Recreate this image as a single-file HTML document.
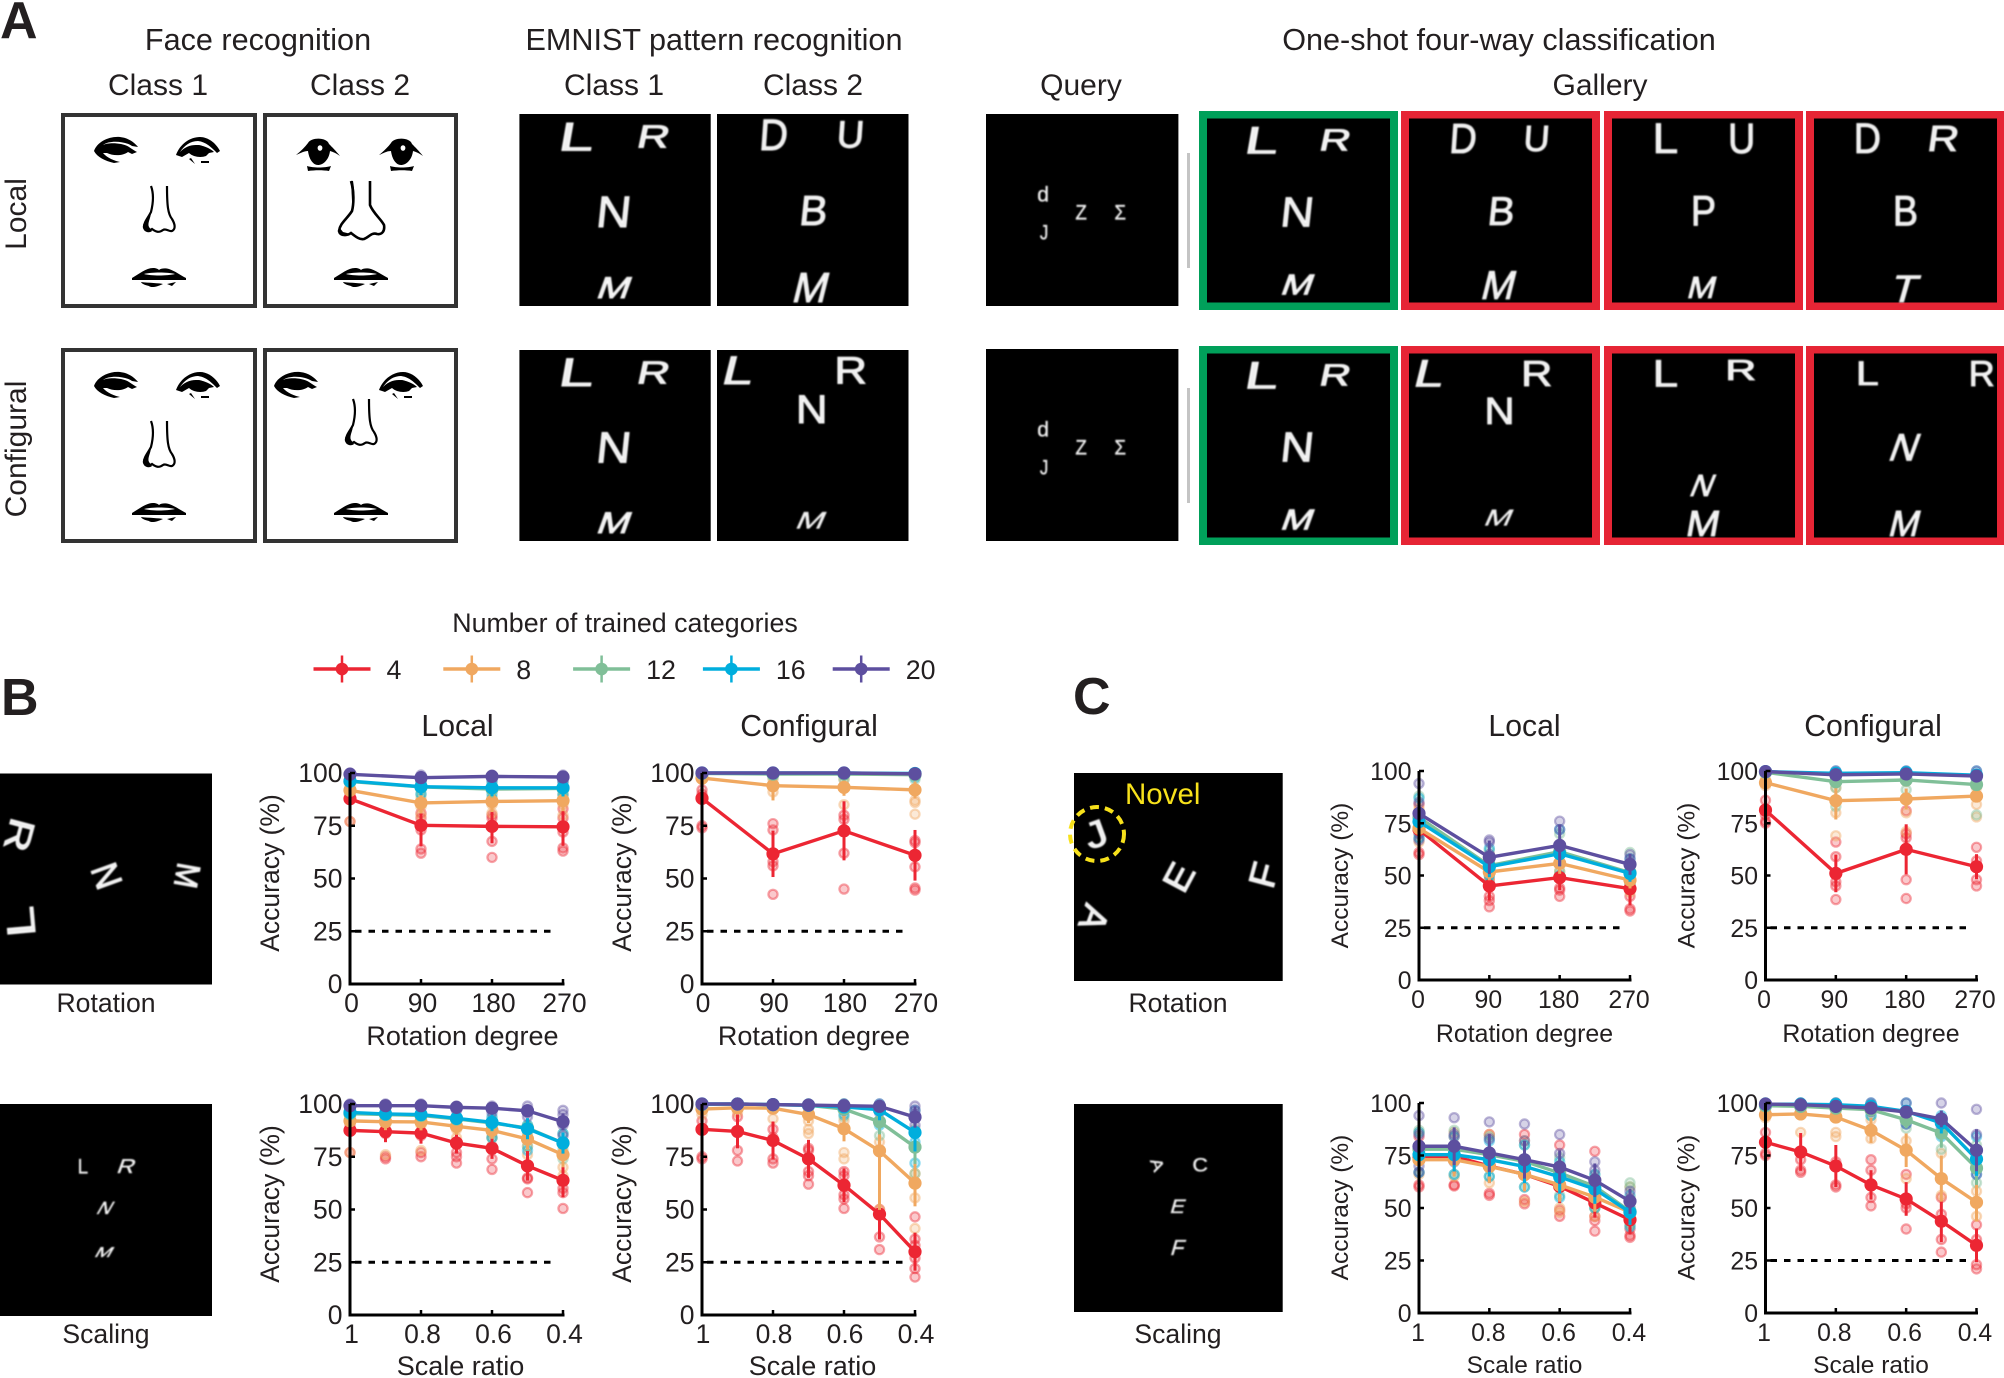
<!DOCTYPE html>
<html lang="en">
<head>
<meta charset="utf-8">
<title>Recognition accuracy figure</title>
<style>
html,body{margin:0;padding:0;background:#fff;width:2004px;height:1378px;overflow:hidden}
svg{display:block}
text{font-family:"Liberation Sans",sans-serif;fill:#231f20}
.h{font-size:30px;text-anchor:middle}
.h2{font-size:30.6px;text-anchor:middle}
.panel{font-size:52px;font-weight:700}
.cap{font-size:26.6px;text-anchor:middle}
</style>
</head>
<body>
<svg id="fig" xmlns="http://www.w3.org/2000/svg" width="2004" height="1378" viewBox="0 0 2004 1378">
<defs>
<filter id="soft" x="-20%" y="-20%" width="140%" height="140%"><feGaussianBlur stdDeviation="0.7"/></filter>
<symbol id="eye-a" overflow="visible" viewBox="-25 -15 50 30" width="50" height="30">
  <path d="M-23,1 C-20,-8 -8,-14 3,-13 C12,-12 18,-7 21,-3 L15,-4 C8,-9 -8,-10 -14,-5 C-8,-8 6,-7 12,-3 C15,-1 18,1 20,2 L15,4 L11,2 C6,6 -4,6 -10,3 L-14,3 C-10,8 -2,11 3,12 L-3,13 C-12,11 -20,7 -23,1Z" fill="#000"/>
  <ellipse cx="-3" cy="-1" rx="9" ry="5" fill="#000"/>
</symbol>
<symbol id="eye-b" overflow="visible" viewBox="-25 -15 50 30" width="50" height="30">
  <path d="M-22,5 C-18,-6 -8,-13 2,-13 C10,-13 18,-7 22,1 L19,3 C13,-3 8,-8 0,-9 C-8,-9 -14,-4 -18,2 C-13,-3 -8,-5 -2,-5 C4,-5 12,-2 16,2 L11,3 L8,6 C3,8 -5,7 -9,3 L-16,7Z" fill="#000"/>
  <ellipse cx="0" cy="0" rx="7" ry="5" fill="#000"/>
  <path d="M-9,9 L-3,14 L-7,8Z M3,13 L11,13 L11,11 L3,11Z" fill="#000"/>
</symbol>
<symbol id="eye-c" overflow="visible" viewBox="-25 -15 50 30" width="50" height="30">
  <path d="M-23,5 C-18,1 -14,-3 -11,-7 C-8,-13 8,-13 10,-6 C13,-3 17,1 21,6 C17,3 14,2 11,1 C10,10 4,15 -1,15 C-6,15 -10,9 -11,1 C-15,1 -18,3 -23,5Z" fill="#000"/>
  <ellipse cx="1" cy="-2" rx="2.4" ry="2.8" fill="#fff"/>
  <path d="M-12,16 C-6,18 6,18 12,16 L10,21 C4,20 -4,20 -11,21Z" fill="#000"/>
</symbol>
<symbol id="nose-a" overflow="visible" viewBox="-20 0 40 50" width="40" height="50">
  <path d="M-8,0 C-5,8 -6,18 -8,26 C-11,32 -15,36 -15,41 C-14,46 -10,45 -7,43 C-3,46 0,47 4,44 C7,42 10,46 13,45 C17,43 16,38 13,33 C9,28 8,20 8,0" fill="none" stroke="#000" stroke-width="2.2"/>
  <path d="M-8,26 C-11,31 -17,37 -16,42 C-14,47 -9,47 -7,45 L-10,41 C-12,37 -8,32 -8,26Z" fill="#000"/>
</symbol>
<symbol id="nose-b" overflow="visible" viewBox="-26 0 52 60" width="52" height="60">
  <path d="M-10,0 C-7,10 -7,22 -9,30 C-14,38 -21,42 -22,50 C-21,55 -14,55 -10,52 C-5,56 -1,59 3,58 C8,56 11,51 16,53 C21,54 24,50 23,44 C20,38 12,32 9,24 C9,14 9,8 9,0" fill="none" stroke="#000" stroke-width="2.6"/>
  <path d="M-22,46 C-23,53 -16,57 -10,53 L-18,51Z M-10,0 L-8,0 C-6,12 -6,22 -9,30 L-9,20Z" fill="#000"/>
</symbol>
<symbol id="lips" overflow="visible" viewBox="-28 -11 56 22" width="56" height="22">
  <path d="M-27,0 C-20,-4 -13,-10 -6,-10 C-3,-10 -1,-9 0,-8 C2,-10 7,-10 10,-9 C16,-7 21,-3 27,0 L27,2 L-27,2Z M-15,-4 C-8,-6 9,-6 16,-4 C8,-2 -8,-2 -15,-4Z" fill="#000" fill-rule="evenodd"/>
  <path d="M-18,4 C-10,5 0,5 4,6 C-2,9 -8,10 -10,8 C-14,7 -17,6 -18,4Z M8,6 L17,4 L13,8Z" fill="#000"/>
</symbol>
</defs>

<rect width="2004" height="1378" fill="#fff"/>

<text class="panel" x="0" y="38">A</text>
<text class="panel" x="1" y="715">B</text>
<text class="panel" x="1073" y="714">C</text>

<text class="h2" x="258" y="50">Face recognition</text>
<text class="h2" x="714" y="50">EMNIST pattern recognition</text>
<text class="h2" x="1499" y="50">One-shot four-way classification</text>
<text class="h" x="158" y="95">Class 1</text>
<text class="h" x="360" y="95">Class 2</text>
<text class="h" x="614" y="95">Class 1</text>
<text class="h" x="813" y="95">Class 2</text>
<text class="h" x="1081" y="95">Query</text>
<text class="h" x="1600" y="95">Gallery</text>
<text class="h" transform="translate(26 214) rotate(-90)">Local</text>
<text class="h" transform="translate(26 449) rotate(-90)">Configural</text>

<g>
  <rect x="63" y="115" width="192" height="191" fill="#fff" stroke="#333" stroke-width="4"/>
  <use href="#eye-a" x="92" y="135"/><use href="#eye-b" x="173" y="135" />
  <use href="#nose-a" x="139" y="186"/><use href="#lips" x="131" y="267"/>
</g>
<g>
  <rect x="265" y="115" width="191" height="191" fill="#fff" stroke="#333" stroke-width="4"/>
  <use href="#eye-c" x="294" y="135"/><use href="#eye-c" x="377" y="135"/>
  <use href="#nose-b" x="335" y="181"/><use href="#lips" x="333" y="267"/>
</g>
<g>
  <rect x="63" y="350" width="192" height="191" fill="#fff" stroke="#333" stroke-width="4"/>
  <use href="#eye-a" x="92" y="370"/><use href="#eye-b" x="173" y="370"/>
  <use href="#nose-a" x="139" y="421"/><use href="#lips" x="131" y="502"/>
</g>
<g>
  <rect x="265" y="350" width="191" height="191" fill="#fff" stroke="#333" stroke-width="4"/>
  <use href="#eye-a" x="272" y="370"/><use href="#eye-b" x="376" y="370"/>
  <use href="#nose-a" x="341" y="399"/><use href="#lips" x="333" y="502"/>
</g>

<rect x="1187" y="153" width="3" height="115" fill="#c4c4c4"/>
<rect x="1187" y="388" width="3" height="115" fill="#c4c4c4"/>

<g id="images"></g>

<text class="cap" x="106" y="1012">Rotation</text>
<text class="cap" x="106" y="1343">Scaling</text>
<text class="cap" x="1178" y="1012">Rotation</text>
<text class="cap" x="1178" y="1343">Scaling</text>

<g id="legend"></g>
<g id="charts"></g>

<text x="1125" y="804" style="font-size:29.5px;fill:#f7e11b">Novel</text>
<ellipse cx="1097" cy="834" rx="27" ry="27" fill="none" stroke="#f7e11b" stroke-width="4" stroke-dasharray="9 6"/>
</svg>

<script>
// ---- chart data ----
const trainedCategories = ['4', '8', '12', '16', '20'];
const rotationLabels = ['0', '90', '180', '270'];
const scaleLabels = ['1', '', '0.8', '', '0.6', '', '0.4'];
const accuracyTicks = [0, 25, 50, 75, 100];
const chanceLevel = [25];

const bRotLocalMeans = [[87.8,75.2,74.7,74.5],[91.8,85.8,86.5,86.9],[96,93.4,92.4,92.7],[96.2,93.5,93,93],[99.4,97.8,98.4,98.1]];
const bRotLocalErrors = [[3,10,8,9],[4,5,5,5],[2,4,4,4],[2,4,4,4],[1,1.5,1.5,1.5]];
const bRotLocalPoints = [
 [[77,88,90],[81,78.6,73,64,62],[80,78.6,67.6,60],[83,78.6,72,64.5,63]],
 [[77,92,95],[88,84,80],[88,85,81],[90,85,80]],
 [[92,97,98],[96,92,90],[95,92,88],[95,92,89]],
 [[93,97,99],[96,93,90],[96,93,90],[96,93,90]],
 [[99,100,98],[99,97,96],[99,98,97],[99,98,96]]];

const bRotConfigMeans = [[88,61.7,72.6,61],[97.6,94,93.2,92],[99.8,99.5,99.5,99.2],[100,100,100,99.8],[100,100,100,99.6]];
const bRotConfigErrors = [[3,11,14,12],[2,7,4,4],[.5,1,1,1],[0,.5,.5,.5],[0,.5,.5,.5]];
const bRotConfigPoints = [
 [[75,74,90,92],[76,73,58,56,42.5],[80,78,62,45],[68,67,55.5,45.5,44.5]],
 [[97,98],[97,91],[97,85],[87,86,80.5]],
 [[100,99],[100,98],[100,97],[99,97]],
 [[100],[100,99],[100,99],[100,98]],
 [[100],[100],[100],[100,99]]];

const bScaleLocalMeans = [[87.5,86.9,86.2,81.5,79,70.7,63.8],[92,91.6,91.5,89.4,87.5,83.4,76],[95.4,95,94.6,92.9,91,88.6,81.5],[96,95.3,95,93.2,91.3,88.3,81.5],[99.2,99.2,99.2,98.4,98,96.8,91.6]];
const bScaleLocalErrors = [[3,5,5,5,5,7,8],[4,4,4,4,4,5,6],[2,3,3,3,4,4,5],[2,3,3,3,4,5,5],[1,1,1,1.5,2,3,4]];
const bScaleLocalPoints = [
 [[77,88,90],[75,74,86],[77,75,85],[77,75,72],[80,74,69],[65,64.5,58],[60,58,50.5]],
 [[77,92,94],[76,90,93],[78,90,92],[84,88,92],[84,86,90],[76,80,87],[66,70,80]],
 [[92,96,98],[92,95,97],[92,94,96],[90,92,94],[84,90,93],[80,86,90],[74,78,86]],
 [[93,97],[92,96],[92,95],[90,94],[84,90,94],[78,84,90],[76,82,86]],
 [[98,100],[98,100],[98,100],[97,99],[96,99],[94,96,99],[85,90,95,97]]];

const bScaleConfigMeans = [[88,87,82.7,74,61.5,47.8,30],[97.6,98.2,98,95,88.3,77.8,62.5],[99.8,100,99.7,99.4,97.6,91.6,79.6],[100,100,99.7,99.4,98.6,97.3,86.5],[100,100,99.7,99.5,99.2,98.9,93.8]];
const bScaleConfigErrors = [[3,8,9,9,8,12,9],[2,1,2,4,6,28,11],[0,0,.5,1,3,6,8],[0,0,.5,1,2,5,9],[0,0,.5,.5,1,2,5]];
const bScaleConfigPoints = [
 [[92,75,74],[94,78,73],[88,84,74,72],[79,78,68,66,62],[68,66,57,55,50.5],[50,37,31],[46.5,36,33,27,22,18]],
 [[100,95],[100,96],[100,93],[92,88,86],[92,77,74],[82,50],[67,55.5,41]],
 [[100],[100],[100],[100,98],[100,94],[97,85],[88,80,67]],
 [[100],[100],[100],[100],[100,95],[100,90],[97,82,72]],
 [[100],[100],[100],[100],[100,97],[100,96],[99,97,95,90]]];

const cRotLocalMeans = [[72,45,49,43.7],[72.6,51.7,55.8,47.8],[77.8,54.7,61.4,51.4],[75.8,54.2,60.4,51],[79.7,58.7,64.4,55.3]];
const cRotLocalErrors = [[8,7,6,8],[8,4,5,4],[7,4,5,4],[8,5,6,4],[10,8,10,5]];
const cRotLocalPoints = [
 [[84,76,60,61],[48,40,38,35],[44,43,40],[40,34,33]],
 [[82,70,66],[60,48,45],[62,52,50],[56,46,42]],
 [[88,80,68],[62,50,46],[70,56,52],[61,50,46]],
 [[87,75,68],[63,50,46],[72,56,50],[58,50,46]],
 [[94,85,70,67],[67,66,60,57],[76,72],[60,58,55]]];

const cRotConfigMeans = [[81.3,51,62.5,54.2],[94.4,85.8,86.6,88],[99.4,94.9,95.7,93.5],[99.7,98.9,99.2,98],[99.7,98.2,98.6,97.6]];
const cRotConfigErrors = [[6,9,12,6],[2,9,5,3],[.5,3,3,3],[.5,2,1.5,2],[.5,2,1.5,2]];
const cRotConfigPoints = [
 [[86,76,75,79],[66,59,47,45,38.5],[81,70,68,48,39],[63.5,57,48,45]],
 [[96,93],[92,69,80],[95,80,71],[92,84,78]],
 [[100,99],[92,83,98],[99,91],[98,79]],
 [[100],[100,96],[100,98],[100,96]],
 [[100],[100,97],[100,98],[100,96]]];

const cScaleLocalMeans = [[74,74.6,70,66,60.3,52.4,44.4],[73,73,69.8,66,61,55.2,48],[78,78,75.4,72.2,66.7,60.3,48.4],[75.4,75.4,73,69.8,64.8,59,48],[79.4,79.4,76.2,73,69.5,63.2,53.2]];
const cScaleLocalErrors = [[8,8,8,8,8,7,7],[8,8,8,8,8,7,6],[8,8,8,8,8,7,6],[8,8,8,8,8,7,6],[9,9,9,9,8,8,6]];
const cScaleLocalPoints = [
 [[60,61,84],[60.5,61,84],[56,57,85],[52,54,85],[46,49,80],[77,46,39,44],[40,37,36]],
 [[66,73,86],[65,86,73],[62,85,73],[53,82,72],[48,50,70],[46,50,64],[42,60,55]],
 [[67,87,78],[66,87,78],[65,84,75],[60,80,72],[56,74,66],[50,66,60],[42,60,62]],
 [[67,86,76],[66,84,76],[65,82,73],[60,80,70],[55,72,65],[50,66,59],[41,56,50]],
 [[94,85,70,67],[93,85,72],[91,83,70],[90,82,68],[85,76,66],[72,68,62],[58,54,50]]];

const cScaleConfigMeans = [[81.3,76.7,70,61,54.3,43.7,32.2],[94.4,94.8,93.3,87,77.5,64,52.7],[98.7,98.4,97.6,96.8,92,85.7,69],[99.4,99.4,99.2,98.4,96,90.5,73.3],[99.5,99.2,98.4,97.6,95.7,92.4,77.5]];
const cScaleConfigErrors = [[6,9,10,7,8,10,8],[1.5,2,3,6,8,11,9],[.5,.5,1,2,4,7,8],[0,.5,.5,1,3,5,8],[0,.5,1,1.5,3,4,10]];
const cScaleConfigPoints = [
 [[86,76,75],[73,68,67],[61,60,72],[73,68,55,51],[66,52,50,40],[47,35,29,55],[42,35,23,21]],
 [[96,93],[86,96],[86,84,96],[83,92],[82,64],[76,56],[46,58]],
 [[100,97],[100,97],[100,96],[99,94],[96,88],[90,78],[80,62]],
 [[100],[100],[100],[100,94],[100,90],[94,84],[84,66]],
 [[100],[100],[100],[100,96],[100,90],[100,88],[97,85,66]]];

// ---- image panel letters: character, centre, height, rotation, slant, width factor ----
const lettersTarget = [['L',58,22,40,0,-10,1.6],['R',135,22,32,0,-12,1.4],['N',95,97,44,0,-6,1.1],['M',96,173,30,0,-20,1.3]];
const lettersBdub = [['D',57,20,44,0,-4,.9],['U',134,20,38,0,-4,1],['B',97,96,42,0,-6,1],['M',95,173,42,0,-14,1]];
const lettersLupm = [['L',56,20,44,0,0,1.1],['U',136,20,44,0,0,.9],['P',96,96,44,0,0,.9],['M',95,176,32,0,-14,1.1]];
const lettersDrbt = [['D',56,20,44,0,0,.9],['R',136,20,38,0,-8,1.2],['B',96,96,44,0,0,.9],['T',96,177,40,0,-16,1.1]];
const lettersMoved = [['L',22,20,40,0,-14,1.4],['R',134,20,38,0,0,1.2],['N',95,59,40,0,0,1.1],['M',95,171,24,0,-24,1.4]];
const lettersLowN = [['L',56,20,40,0,0,1.2],['R',135,17,30,0,0,1.5],['N',96,137,32,0,-22,1],['M',96,177,38,0,-10,1.1]];
const lettersRightR = [['L',56,20,36,0,0,1.2],['R',176,20,38,0,0,1],['N',96,97,40,0,-20,1],['M',96,177,38,0,-14,1]];
const lettersQuery = [['d',57,80,21,0,0,1],['J',58,118,21,0,0,.8],['Z',95,98,21,0,0,.9],['Σ',134,98,21,0,0,.9]];
const lettersBRotation = [['R',18,56,32,105,0,1.3],['L',18,135,36,-95,0,1.4],['N',97,93,34,70,0,.9],['M',170,93,30,100,0,.9]];
const lettersBScaling = [['L',75,56,19,0,0,.9],['R',115,56,18,0,-20,1.2],['N',96,94,16,0,-30,1.1],['M',95,134,13,0,-30,1.4]];
const lettersCRotation = [['J',20,56,34,-20,0,1.2],['A',19,134,34,110,0,1],['E',96,96,34,-62,0,1.1],['F',174,94,34,-75,0,1.1]];
const lettersCScaling = [['A',77,56,15,70,0,1.2],['C',116,56,18,0,0,1.1],['E',96,94,18,0,-16,1.1],['F',96,132,20,0,-16,1]];

// ---- styling and layout ----
const seriesColors = ['#ec2633', '#f0a860', '#80bf98', '#00aedd', '#5d4f9f'];
const svgNS = 'http://www.w3.org/2000/svg';

function mk(tag, parent, attrs) {
  const el = document.createElementNS(svgNS, tag);
  for (const k in attrs) el.setAttribute(k, attrs[k]);
  parent.appendChild(el);
  return el;
}

// Image panels
const imagesRoot = document.getElementById('images');
function imagePanel(name, x, y, w, h, letters) {
  const g = mk('g', imagesRoot, {transform: 'translate(' + x + ' ' + y + ') scale(' + (w / 192) + ' ' + (h / 192) + ')'});
  
  
  mk('rect', g, {width: 192, height: 192, fill: '#000'});
  const inner = mk('g', g, {filter: 'url(#soft)'});
  letters.forEach(function (l) {
    const t = mk('text', inner, {
      transform: 'translate(' + l[1] + ' ' + l[2] + ') rotate(' + l[4] + ') skewX(' + l[5] + ') scale(' + l[6] + ' 1)',
      y: l[3] * 0.36, 'text-anchor': 'middle',
      style: 'font-size:' + l[3] + 'px;fill:#eee;stroke:#fff;stroke-width:' + (l[3] > 24 ? 0.9 : 0.3)
    });
    
    
    t.textContent = l[0];
  });
}
function framedImage(name, x, y, color, letters) {
  const r = mk('rect', imagesRoot, {x: x, y: y, width: 199, height: 199, fill: color});
  
  
  imagePanel(name, x + 8, y + 7.5, 183, 184, letters);
}
imagePanel('emnist-local-class-1', 519.4, 114, 191.3, 192, lettersTarget);
imagePanel('emnist-local-class-2', 717, 114, 191.5, 192, lettersBdub);
imagePanel('emnist-configural-class-1', 519.4, 350, 191.3, 191, lettersTarget);
imagePanel('emnist-configural-class-2', 717, 350, 191.5, 191, lettersMoved);
imagePanel('query-local', 986, 114, 192.4, 192, lettersQuery);
imagePanel('query-configural', 986, 349, 192.4, 192, lettersQuery);
framedImage('gallery-local-1', 1199, 111, '#00a05a', lettersTarget);
framedImage('gallery-local-2', 1401, 111, '#e62535', lettersBdub);
framedImage('gallery-local-3', 1604, 111, '#e62535', lettersLupm);
framedImage('gallery-local-4', 1806, 111, '#e62535', lettersDrbt);
framedImage('gallery-configural-1', 1199, 346, '#00a05a', lettersTarget);
framedImage('gallery-configural-2', 1401, 346, '#e62535', lettersMoved);
framedImage('gallery-configural-3', 1604, 346, '#e62535', lettersLowN);
framedImage('gallery-configural-4', 1806, 346, '#e62535', lettersRightR);
imagePanel('rotation-example-b', 0, 773.5, 212, 211, lettersBRotation);
imagePanel('scaling-example-b', 0, 1104, 212, 212, lettersBScaling);
imagePanel('rotation-example-c', 1074, 773, 208.7, 208, lettersCRotation);
imagePanel('scaling-example-c', 1074, 1104, 208.7, 208, lettersCScaling);

// Legend
const legendRoot = document.getElementById('legend');


const legendTitle = mk('text', legendRoot, {x: 625, y: 632, 'text-anchor': 'middle', style: 'font-size:26.8px'});


legendTitle.textContent = 'Number of trained categories';
trainedCategories.forEach(function (label, i) {
  const x = 313.5 + i * 129.8;
  const g = mk('g', legendRoot, {});
  
  
  mk('line', g, {x1: x, x2: x + 57, y1: 669, y2: 669, stroke: seriesColors[i], 'stroke-width': 3.5});
  mk('line', g, {x1: x + 28.5, x2: x + 28.5, y1: 655.5, y2: 682.5, stroke: seriesColors[i], 'stroke-width': 2.5});
  mk('circle', g, {cx: x + 28.5, cy: 669, r: 6.3, fill: seriesColors[i]});
  const t = mk('text', g, {x: x + 73, y: 679, style: 'font-size:26.8px'});
  
  
  t.textContent = label;
});

// Charts
const chartsRoot = document.getElementById('charts');
function drawChart(o) {
  const g = mk('g', chartsRoot, {});
  
  
  const n = o.means[0].length;
  const xScale = function (i) { return o.x0 + (o.x1 - o.x0) * i / (n - 1); };
  const yScale = function (v) { return o.y0 - (o.y0 - o.y100) * v / 100; };

  // chance line
  if (o.chance) {
    const c = mk('line', g, {x1: o.x0 + 5, x2: o.x1 - 7, y1: yScale(chanceLevel[0]), y2: yScale(chanceLevel[0]), stroke: '#000', 'stroke-width': 3, 'stroke-dasharray': '6.5 7'});
    
    
  }
  // replicate dots
  o.points.forEach(function (series, s) {
    series.forEach(function (vals, i) {
      vals.forEach(function (v) {
        const d = mk('circle', g, {cx: xScale(i), cy: yScale(v), r: 4.6, fill: seriesColors[s], 'fill-opacity': 0.25, stroke: seriesColors[s], 'stroke-opacity': 0.42, 'stroke-width': 2.2});
        
        
      });
    });
  });
  // means
  o.means.forEach(function (series, s) {
    const sg = mk('g', g, {});
    
    
    series.forEach(function (v, i) {
      const e = o.errors[s][i];
      mk('line', sg, {x1: xScale(i), x2: xScale(i), y1: yScale(v - e), y2: yScale(Math.min(v + e, 100)), stroke: seriesColors[s], 'stroke-width': 3});
    });
    mk('polyline', sg, {points: series.map(function (v, i) { return xScale(i) + ',' + yScale(v); }).join(' '), fill: 'none', stroke: seriesColors[s], 'stroke-width': 3.4});
    series.forEach(function (v, i) {
      mk('circle', sg, {cx: xScale(i), cy: yScale(v), r: 6.6, fill: seriesColors[s]});
    });
  });
  // axes
  const yAxis = mk('path', g, {d: 'M' + o.x0 + ' ' + o.y100 + 'V' + o.y0, fill: 'none', stroke: '#000', 'stroke-width': 3});
  
  
  const xAxis = mk('path', g, {d: 'M' + (o.x0 - 1.5) + ' ' + o.y0 + 'H' + (o.x1 + 1.5), fill: 'none', stroke: '#000', 'stroke-width': 3});
  
  
  accuracyTicks.forEach(function (v) {
    mk('line', g, {x1: o.x0, x2: o.x0 + 5, y1: yScale(v), y2: yScale(v), stroke: '#000', 'stroke-width': 2.5});
    const t = mk('text', g, {x: o.x0 - 7.5, y: yScale(v) + 9, 'text-anchor': 'end', style: 'font-size:' + o.fs + 'px'});
    
    
    t.textContent = v;
  });
  o.labels.forEach(function (label, i) {
    if (label === '') return;
    mk('line', g, {x1: xScale(i), x2: xScale(i), y1: o.y0, y2: o.y0 - 5, stroke: '#000', 'stroke-width': 2.5});
    const t = mk('text', g, {x: xScale(i) + o.tdx, y: o.y0 + 28, 'text-anchor': 'middle', style: 'font-size:' + o.fs + 'px'});
    
    
    t.textContent = label;
  });
  const xt = mk('text', g, {x: o.xtx, y: o.y0 + o.xto, 'text-anchor': 'middle', style: 'font-size:' + o.xfs + 'px'});
  
  
  xt.textContent = o.xTitle;
  const yt = mk('text', g, {transform: 'translate(' + (o.x0 - 71) + ' ' + (o.y0 - o.yto) + ') rotate(-90)', 'text-anchor': 'middle', style: 'font-size:' + o.yfs + 'px'});
  
  
  yt.textContent = 'Accuracy (%)';
  if (o.title) {
    const tt = mk('text', g, {x: o.tx, y: o.ty, 'text-anchor': 'middle', style: 'font-size:30.2px'});
    
    
    tt.textContent = o.title;
  }
}

drawChart({name:'chart-b-rotation-local', means:bRotLocalMeans, errors:bRotLocalErrors, points:bRotLocalPoints, labels:rotationLabels, x0:350, x1:563, y0:984, y100:773, fs:26.5, xfs:27, yfs:26.5, yto:111, tdx:1.5, chance:true, xTitle:'Rotation degree', xtx:462.5, xto:61, title:'Local', tx:457.5, ty:736});
drawChart({name:'chart-b-rotation-configural', means:bRotConfigMeans, errors:bRotConfigErrors, points:bRotConfigPoints, labels:rotationLabels, x0:702, x1:915, y0:984, y100:773, fs:26.5, xfs:27, yfs:26.5, yto:111, tdx:1, chance:true, xTitle:'Rotation degree', xtx:814, xto:61, title:'Configural', tx:809, ty:736});
drawChart({name:'chart-b-scaling-local', means:bScaleLocalMeans, errors:bScaleLocalErrors, points:bScaleLocalPoints, labels:scaleLabels, x0:350, x1:563, y0:1315, y100:1104, fs:26.5, xfs:27, yfs:26.5, yto:111, tdx:1.5, chance:true, xTitle:'Scale ratio', xtx:460.5, xto:60});
drawChart({name:'chart-b-scaling-configural', means:bScaleConfigMeans, errors:bScaleConfigErrors, points:bScaleConfigPoints, labels:scaleLabels, x0:702, x1:915, y0:1315, y100:1104, fs:26.5, xfs:27, yfs:26.5, yto:111, tdx:1, chance:true, xTitle:'Scale ratio', xtx:812.5, xto:60});
drawChart({name:'chart-c-rotation-local', means:cRotLocalMeans, errors:cRotLocalErrors, points:cRotLocalPoints, labels:rotationLabels, x0:1419, x1:1630, y0:980, y100:771, fs:24.8, xfs:24.9, yfs:24.5, yto:104.5, tdx:-1, chance:true, xTitle:'Rotation degree', xtx:1524.5, xto:62, title:'Local', tx:1524.5, ty:736});
drawChart({name:'chart-c-rotation-configural', means:cRotConfigMeans, errors:cRotConfigErrors, points:cRotConfigPoints, labels:rotationLabels, x0:1765.5, x1:1976.5, y0:980, y100:771, fs:24.8, xfs:24.9, yfs:24.5, yto:104.5, tdx:-1.5, chance:true, xTitle:'Rotation degree', xtx:1871, xto:62, title:'Configural', tx:1873, ty:736});
drawChart({name:'chart-c-scaling-local', means:cScaleLocalMeans, errors:cScaleLocalErrors, points:cScaleLocalPoints, labels:scaleLabels, x0:1419, x1:1630, y0:1313, y100:1103, fs:24.8, xfs:24.5, yfs:24.5, yto:105.5, tdx:-1, chance:false, xTitle:'Scale ratio', xtx:1524.5, xto:60});
drawChart({name:'chart-c-scaling-configural', means:cScaleConfigMeans, errors:cScaleConfigErrors, points:cScaleConfigPoints, labels:scaleLabels, x0:1765.5, x1:1976.5, y0:1313, y100:1103, fs:24.8, xfs:24.5, yfs:24.5, yto:105.5, tdx:-1.5, chance:true, xTitle:'Scale ratio', xtx:1871, xto:60});
</script>
</body>
</html>
